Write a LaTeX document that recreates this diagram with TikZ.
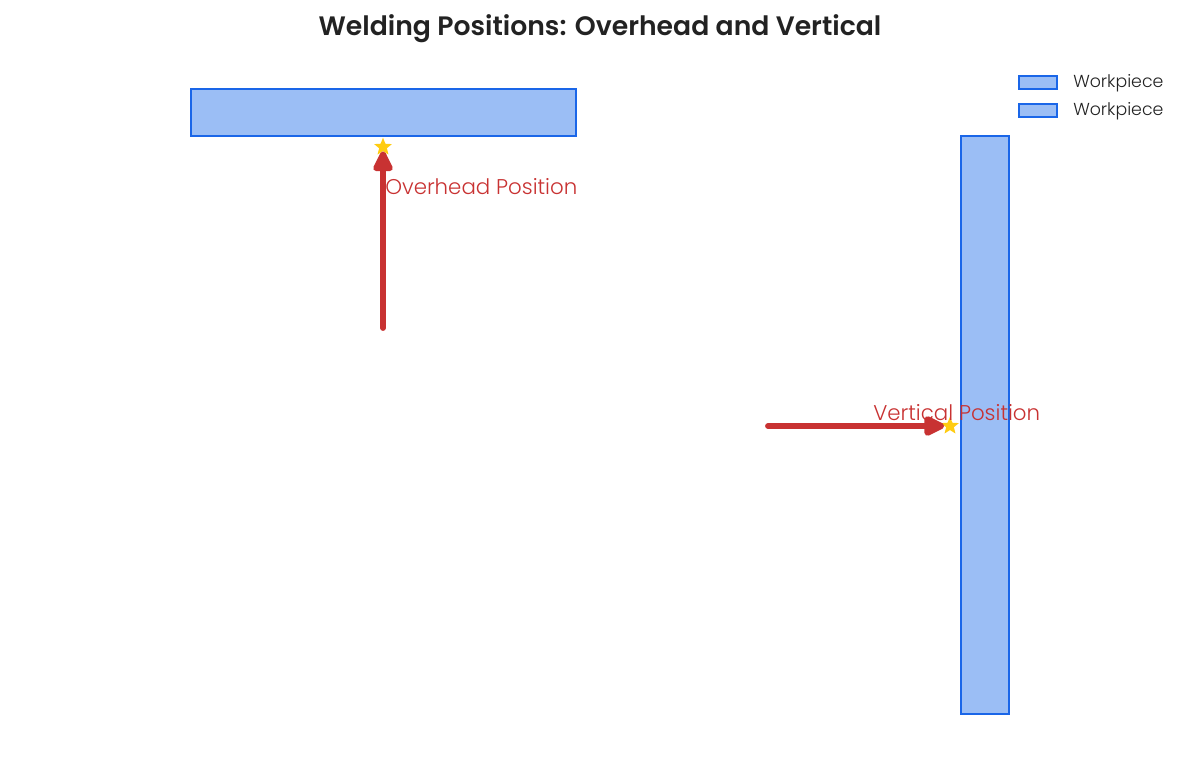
\documentclass[tikz,border=0pt]{standalone}
\usepackage{fontspec}
\setmainfont{Poppins}[UprightFont=* Light, BoldFont=* SemiBold]
\usetikzlibrary{arrows.meta,shapes.geometric}
\definecolor{wpfill}{HTML}{9BBEF5}
\definecolor{wpline}{HTML}{1A66E8}
\definecolor{arr}{HTML}{C83232}
\definecolor{stargold}{HTML}{FFCC11}
\definecolor{titlec}{HTML}{222222}
\tikzset{
  workpiece/.style={draw=wpline, fill=wpfill, line width=1.6pt},
  weldarrow/.style={draw=arr, line width=4.4pt, line cap=round, -{Triangle[length=18pt,width=16pt,round]}},
  weldstar/.style={star, star points=5, star point ratio=2.3, fill=stargold, draw=none, minimum size=14pt, inner sep=0pt},
  poslabel/.style={text=arr, font=\fontsize{16}{19}\selectfont, inner sep=0pt},
  legtext/.style={text=titlec, font=\fontsize{13}{15}\selectfont, inner sep=0pt, anchor=west},
}
\begin{document}
\begin{tikzpicture}[x=0.75pt,y=-0.75pt]
\useasboundingbox (0,0) rectangle (1200,763);
\node[font=\bfseries\fontsize{20}{24}\selectfont, text=titlec] (title) at (600,29) {Welding Positions: Overhead and Vertical};
% workpieces
\draw[workpiece] (191,89) rectangle (576,136);
\draw[workpiece] (961,136) rectangle (1009,714);
% stars
\node[weldstar] (s1) at (383,147) {};
\node[weldstar] (s2) at (950,426) {};
% arrows
\coordinate (a1) at (383,328);
\coordinate (a2) at (768,426);
\draw[weldarrow] (a1) -- (s1.south);
\draw[weldarrow] (a2) -- (s2.west);
% labels
\node[poslabel, anchor=west] (l1) at (385,187) {Overhead Position};
\node[poslabel, anchor=west] (l2) at (873,413) {Vertical Position};
% legend
\draw[workpiece, line width=1.2pt] (1019,76) rectangle (1057,89);
\draw[workpiece, line width=1.2pt] (1019,104) rectangle (1057,117);
\node[legtext] (lg1) at (1073,83) {Workpiece};
\node[legtext] (lg2) at (1073,111) {Workpiece};
\end{tikzpicture}
\end{document}
